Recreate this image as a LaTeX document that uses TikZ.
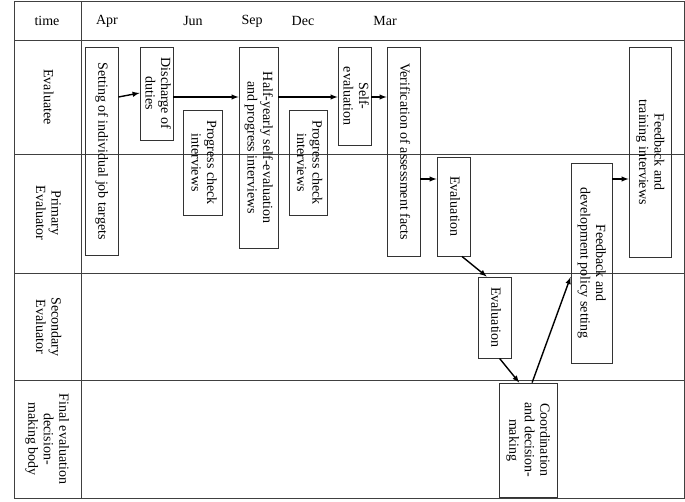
\documentclass[tikz,border=0pt]{standalone}
\usepackage{fontspec}
\setmainfont{Liberation Serif}
\usetikzlibrary{calc}
\newcommand{\rt}[1]{\rotatebox[origin=c]{-90}{\begin{tabular}{@{}c@{}}#1\end{tabular}}}
\tikzset{
 bx/.style={draw=black!80,line width=0.9pt,inner sep=0pt,align=center},
 lbl/.style={inner sep=0pt,align=center},
 arr/.style={-latex,line width=1.4pt},
 grid/.style={draw=black!75,line width=0.8pt}
}
\begin{document}
\begin{tikzpicture}[x=1pt,y=-1pt,font=\fontsize{14}{15.5}\selectfont]
\useasboundingbox (0,0) rectangle (685,501);
\draw[grid] (14,1) rectangle (684,498);
\draw[grid] (81,1) -- (81,498);
\foreach \yy in {40,154,273,380} \draw[grid] (14,\yy) -- (684,\yy);
% header
\node[lbl] (ht) at (47,21) {time};
\node[lbl] (m1) at (107,21) {Apr};
\node[lbl] (m2) at (193,21) {Jun};
\node[lbl] (m3) at (252,21) {Sep};
\node[lbl] (m4) at (303,21) {Dec};
\node[lbl] (m5) at (385,21) {Mar};
\node[lbl] (r1) at (47,97) {\rt{Evaluatee}};
\node[lbl] (r2) at (47,213) {\rt{Primary\\Evaluator}};
\node[lbl] (r3) at (47,327) {\rt{Secondary\\Evaluator}};
\node[lbl] (r4) at (47,439) {\rt{Final evaluation\\decision-\\making body}};
% boxes
\node[bx,minimum width=33,minimum height=208] (set) at (101.5,151) {\rt{Setting of individual job targets}};
\node[bx,minimum width=33,minimum height=93] (dis) at (156.5,93.5) {\rt{Discharge of\\duties}};
\node[bx,minimum width=39,minimum height=105] (pc1) at (202.5,162.5) {\rt{Progress check\\interviews}};
\node[bx,minimum width=39,minimum height=201] (half) at (258.5,147.5) {\rt{Half-yearly self-evaluation\\and progress interviews}};
\node[bx,minimum width=38,minimum height=105] (pc2) at (308,162.5) {\rt{Progress check\\interviews}};
\node[bx,minimum width=33,minimum height=98] (self) at (354.5,96) {\rt{Self-\\evaluation}};
\node[bx,minimum width=33,minimum height=209] (ver) at (403.5,151.5) {\rt{Verification of assessment facts}};
\node[bx,minimum width=33,minimum height=99] (ev1) at (453.5,206.5) {\rt{Evaluation}};
\node[bx,minimum width=33,minimum height=81] (ev2) at (494.5,317.5) {\rt{Evaluation}};
\node[bx,minimum width=58,minimum height=114] (coord) at (528,440) {\rt{Coordination\\and decision-\\making}};
\node[bx,minimum width=41,minimum height=200] (fdp) at (591.5,263) {\rt{Feedback and\\development policy setting}};
\node[bx,minimum width=42,minimum height=210] (fti) at (650,152) {\rt{Feedback and\\training interviews}};
% arrows
\coordinate (ya) at (0,97);
\coordinate (yb) at (0,93);
\coordinate (yc) at (0,179);
\draw[arr] (set.east|-ya) -- (dis.west|-yb);
\draw[arr] (dis.east|-ya) -- (half.west|-ya);
\draw[arr] (half.east|-ya) -- (self.west|-ya);
\draw[arr] (self.east|-ya) -- (ver.west|-ya);
\draw[arr] (ver.east|-yc) -- (ev1.west|-yc);
\draw[arr] ($(ev1.south west)!0.75!(ev1.south east)$) -- ($(ev2.north west)!0.27!(ev2.north east)$);
\draw[arr] ($(ev2.south west)!0.65!(ev2.south east)$) -- ($(coord.north west)!0.35!(coord.north east)$);
\draw[arr] ($(coord.north west)!0.57!(coord.north east)$) -- ($(fdp.north west)!0.57!(fdp.south west)$);
\draw[arr] (fdp.east|-yc) -- (fti.west|-yc);
\end{tikzpicture}
\end{document}
